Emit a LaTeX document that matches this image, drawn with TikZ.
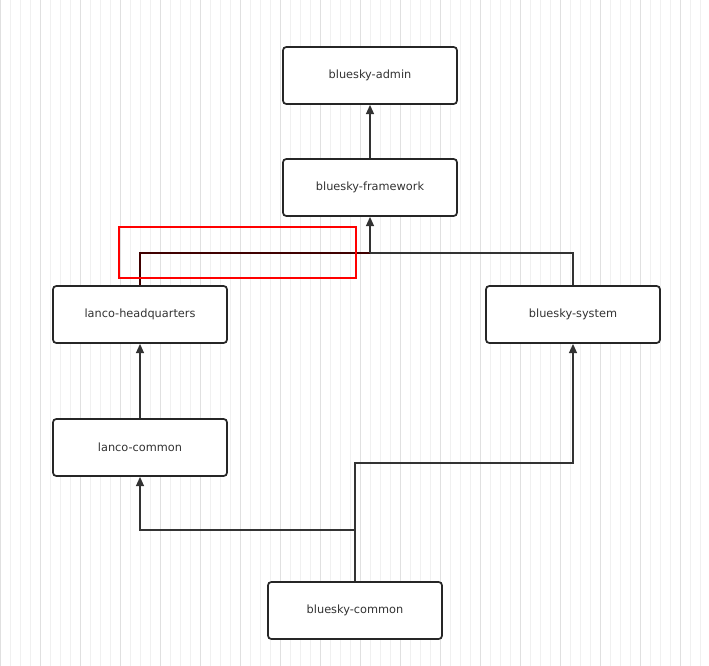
\documentclass[tikz,border=0pt]{standalone}
\usepackage{fontspec}
\setmainfont{DejaVu Sans}
\usetikzlibrary{arrows.meta}
\tikzset{
 box/.style={draw=black!85,line width=1.3pt,rounded corners=2.5pt,fill=white,minimum width=174*0.75pt,minimum height=57*0.75pt,font=\fontsize{8.5pt}{10pt}\selectfont,text=black!80,inner sep=0pt},
 conn/.style={draw=black!80,line width=1.2pt},
 arr/.style={conn,-{Triangle[length=7pt,width=6pt]}}
}
\begin{document}
\begin{tikzpicture}[x=0.75pt,y=-0.75pt]
\useasboundingbox (0,0) rectangle (709,666);
\fill[white] (0,0) rectangle (709,666);
\draw[black!6,line width=0.4pt] (0,0) grid[step=10] (709,666);
\draw[black!12,line width=0.4pt] (0,0) grid[step=40] (709,666);
\node[box] (admin) at (370,75.5) {bluesky-admin};
\node[box] (fw) at (370,187.5) {bluesky-framework};
\node[box] (hq) at (140,314.5) {lanco-headquarters};
\node[box] (sys) at (573,314.5) {bluesky-system};
\node[box] (lc) at (140,447.5) {lanco-common};
\node[box] (bc) at (355,610.5) {bluesky-common};
\draw[arr] (fw) -- (admin);
\draw[conn,draw=black!75!red] (hq.north) |- (370,253);
\draw[conn] (sys.north) |- (370,253);
\draw[arr] (370,253) -- (fw.south);
\draw[arr] (lc) -- (hq);
\draw[arr] (bc.north) |- (355,530) -| (lc.south);
\draw[arr] (355,530) |- (573,463) -- (sys.south);
\draw[red,line width=1pt] (119,227) rectangle (356,278);
\end{tikzpicture}
\end{document}
